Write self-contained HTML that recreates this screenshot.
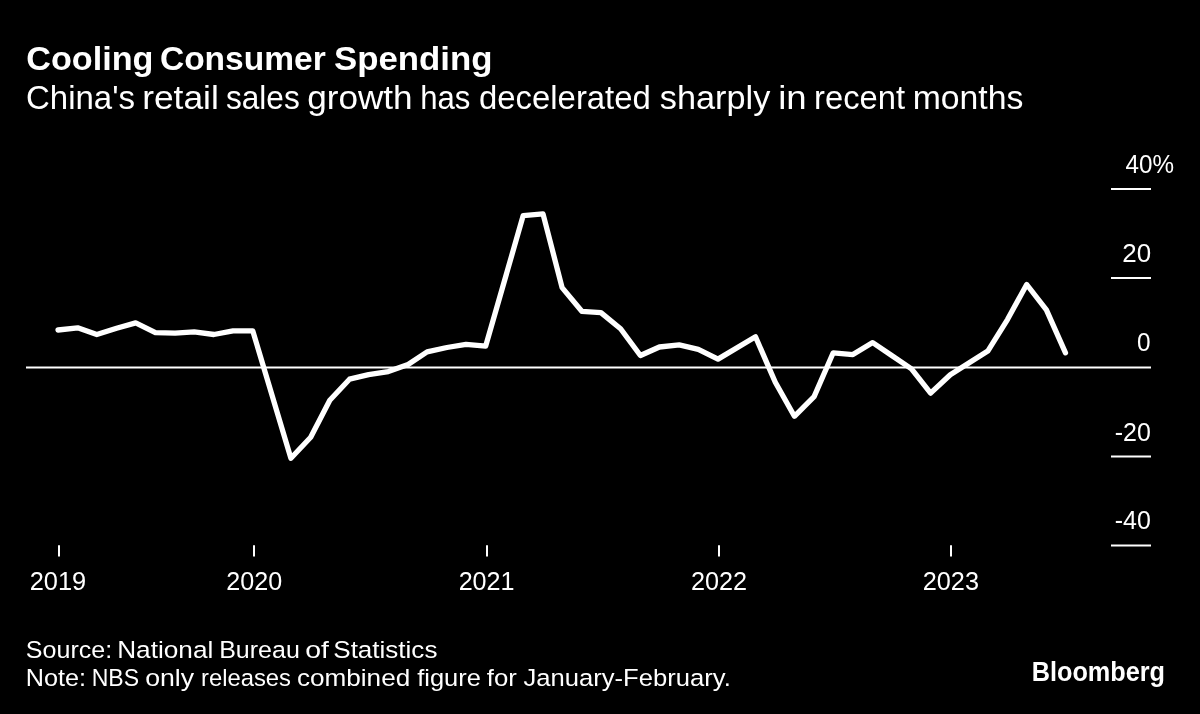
<!DOCTYPE html>
<html lang="en">
<head>
<meta charset="utf-8">
<title>Cooling Consumer Spending</title>
<style>
html,body{margin:0;padding:0;background:#000;}
body{width:1200px;height:714px;overflow:hidden;}
svg{display:block;}
text{font-family:"Liberation Sans",sans-serif;fill:#fff;white-space:pre;}
.b{font-weight:bold;}
</style>
</head>
<body>
<svg width="1200" height="714" viewBox="0 0 1200 714">
<rect width="1200" height="714" fill="#000"/>
<!-- headline -->
<text y="69.9" font-size="33.5" class="b"><tspan x="26.29" textLength="127.23" lengthAdjust="spacingAndGlyphs">Cooling</tspan> <tspan x="159.91" textLength="165.87" lengthAdjust="spacingAndGlyphs">Consumer</tspan> <tspan x="333.95" textLength="158.50" lengthAdjust="spacingAndGlyphs">Spending</tspan></text>
<text y="108.7" font-size="33.5"><tspan x="25.97" textLength="109.00" lengthAdjust="spacingAndGlyphs">China's</tspan> <tspan x="142.16" textLength="76.70" lengthAdjust="spacingAndGlyphs">retail</tspan> <tspan x="225.92" textLength="73.79" lengthAdjust="spacingAndGlyphs">sales</tspan> <tspan x="307.17" textLength="105.51" lengthAdjust="spacingAndGlyphs">growth</tspan> <tspan x="420.17" textLength="50.20" lengthAdjust="spacingAndGlyphs">has</tspan> <tspan x="479.06" textLength="171.77" lengthAdjust="spacingAndGlyphs">decelerated</tspan> <tspan x="659.87" textLength="110.47" lengthAdjust="spacingAndGlyphs">sharply</tspan> <tspan x="778.24" textLength="28.48" lengthAdjust="spacingAndGlyphs">in</tspan> <tspan x="814.10" textLength="90.97" lengthAdjust="spacingAndGlyphs">recent</tspan> <tspan x="912.70" textLength="110.71" lengthAdjust="spacingAndGlyphs">months</tspan></text>
<!-- axis ticks and zero line -->
<g stroke="#fff" stroke-width="2" fill="none">
<line x1="1111" y1="189" x2="1151" y2="189"/>
<line x1="1111" y1="278" x2="1151" y2="278"/>
<line x1="26" y1="367.5" x2="1151" y2="367.5"/>
<line x1="1111" y1="456.5" x2="1151" y2="456.5"/>
<line x1="1111" y1="545.5" x2="1151" y2="545.5"/>
<line x1="59" y1="545.3" x2="59" y2="556.6"/>
<line x1="254" y1="545.3" x2="254" y2="556.6"/>
<line x1="487" y1="545.3" x2="487" y2="556.6"/>
<line x1="719" y1="545.3" x2="719" y2="556.6"/>
<line x1="951" y1="545.3" x2="951" y2="556.6"/>
</g>
<!-- axis labels -->
<text y="173" font-size="26"><tspan x="1125.49" textLength="48.48" lengthAdjust="spacingAndGlyphs">40%</tspan></text>
<text y="261.5" font-size="26"><tspan x="1122.25" textLength="28.84" lengthAdjust="spacingAndGlyphs">20</tspan></text>
<text y="351.3" font-size="26"><tspan x="1137.02" textLength="13.56" lengthAdjust="spacingAndGlyphs">0</tspan></text>
<text y="440.7" font-size="26"><tspan x="1114.81" textLength="36.06" lengthAdjust="spacingAndGlyphs">-20</tspan></text>
<text y="528.7" font-size="26"><tspan x="1114.81" textLength="36.06" lengthAdjust="spacingAndGlyphs">-40</tspan></text>
<text y="590" font-size="26"><tspan x="29.68" textLength="56.47" lengthAdjust="spacingAndGlyphs">2019</tspan></text>
<text y="590" font-size="26"><tspan x="226.26" textLength="55.84" lengthAdjust="spacingAndGlyphs">2020</tspan></text>
<text y="590" font-size="26"><tspan x="458.64" textLength="55.91" lengthAdjust="spacingAndGlyphs">2021</tspan></text>
<text y="590" font-size="26"><tspan x="691.00" textLength="56.07" lengthAdjust="spacingAndGlyphs">2022</tspan></text>
<text y="590" font-size="26"><tspan x="922.70" textLength="56.27" lengthAdjust="spacingAndGlyphs">2023</tspan></text>
<!-- retail sales y/y series -->
<polyline points="58.0,330.0 77.7,327.8 96.8,334.5 116.6,328.3 135.7,322.9 155.4,332.7 175.1,333.2 194.2,331.8 213.9,334.5 233.0,330.9 252.8,330.9 290.9,458.3 310.7,437.3 329.8,400.2 349.5,379.2 368.6,374.7 388.3,371.6 408.1,364.5 427.1,351.9 446.9,347.5 466.0,344.3 485.7,346.1 523.2,215.6 543.0,213.8 562.1,287.6 581.8,311.3 600.9,312.6 620.6,328.7 640.4,355.5 659.4,347.0 679.2,344.8 698.3,349.3 718.0,359.1 755.5,336.8 775.3,382.3 794.4,416.3 814.1,396.6 833.2,352.8 852.9,354.6 872.7,342.6 891.7,355.5 911.5,368.9 930.6,393.1 950.3,374.7 987.8,351.1 1007.6,319.3 1026.7,284.5 1046.4,309.9 1065.5,352.8" fill="none" stroke="#fff" stroke-width="5.3" stroke-linecap="round" stroke-linejoin="round"/>
<!-- footer -->
<text y="658.0" font-size="24.5"><tspan x="25.85" textLength="86.27" lengthAdjust="spacingAndGlyphs">Source:</tspan> <tspan x="117.23" textLength="96.03" lengthAdjust="spacingAndGlyphs">National</tspan> <tspan x="219.19" textLength="80.65" lengthAdjust="spacingAndGlyphs">Bureau</tspan> <tspan x="305.28" textLength="23.71" lengthAdjust="spacingAndGlyphs">of</tspan> <tspan x="333.29" textLength="104.12" lengthAdjust="spacingAndGlyphs">Statistics</tspan></text>
<text y="685.8" font-size="24.5"><tspan x="25.87" textLength="60.26" lengthAdjust="spacingAndGlyphs">Note:</tspan> <tspan x="91.68" textLength="47.37" lengthAdjust="spacingAndGlyphs">NBS</tspan> <tspan x="145.19" textLength="48.93" lengthAdjust="spacingAndGlyphs">only</tspan> <tspan x="201.00" textLength="89.95" lengthAdjust="spacingAndGlyphs">releases</tspan> <tspan x="296.95" textLength="113.25" lengthAdjust="spacingAndGlyphs">combined</tspan> <tspan x="417.23" textLength="63.71" lengthAdjust="spacingAndGlyphs">figure</tspan> <tspan x="486.89" textLength="30.02" lengthAdjust="spacingAndGlyphs">for</tspan> <tspan x="523.49" textLength="207.30" lengthAdjust="spacingAndGlyphs">January-February.</tspan></text>
<text y="680.8" font-size="27.5" class="b"><tspan x="1031.69" textLength="133.36" lengthAdjust="spacingAndGlyphs">Bloomberg</tspan></text>
</svg>
</body>
</html>
